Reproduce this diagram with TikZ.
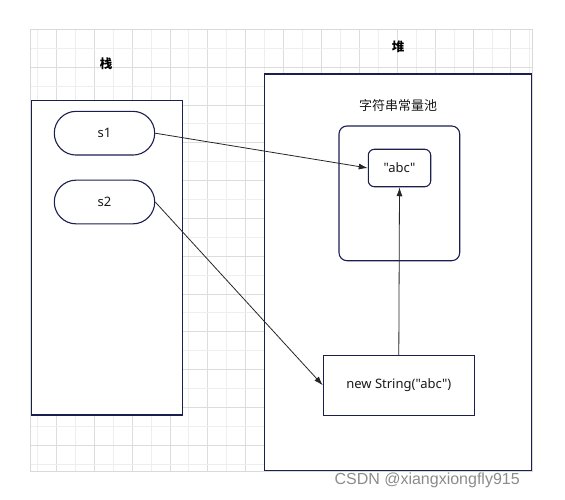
\documentclass[tikz,border=0pt]{standalone}
\usepackage{fontspec}
\setmainfont{Noto Sans}[Ligatures=TeXOff]
\newfontfamily\cjk{Noto Sans CJK SC}
\newfontfamily\wmfont{Liberation Sans}
\usetikzlibrary{arrows.meta}
\definecolor{navy}{HTML}{1B1F4E}
\definecolor{gridminor}{HTML}{EEEEEE}
\definecolor{gridmajor}{HTML}{DCDCDC}
\definecolor{gridborder}{HTML}{D9D9D9}
\tikzset{
  box/.style={draw=navy, line width=1.1pt, rectangle, inner sep=0pt, fill=white},
  rbox/.style={box, rounded corners=#1},
  lbl/.style={font=\fontsize{13}{15}\selectfont, text=black!90},
  conn/.style={draw=black!85, line width=0.8pt, -{Latex[length=9pt,width=6pt]}},
}
\begin{document}
\begin{tikzpicture}[x=1pt,y=-1pt]
\useasboundingbox (0,0) rectangle (565,500);
% grid
\foreach \k in {0,...,26}{
  \pgfmathsetmacro{\xx}{37.4+18.94*\k}
  \pgfmathtruncatemacro{\odd}{mod(\k,2)}
  \ifnum\odd=1 \draw[gridmajor, line width=0.9pt] (\xx,29.4) -- (\xx,471);
  \else \draw[gridminor, line width=0.9pt] (\xx,29.4) -- (\xx,471); \fi
}
\foreach \k in {1,...,23}{
  \pgfmathsetmacro{\yy}{29.4+18.9*\k}
  \pgfmathtruncatemacro{\odd}{mod(\k,2)}
  \ifnum\odd=0 \draw[gridmajor, line width=0.9pt] (30.3,\yy) -- (532.3,\yy);
  \else \draw[gridminor, line width=0.9pt] (30.3,\yy) -- (532.3,\yy); \fi
}
\draw[gridborder, line width=1pt] (30.3,29.4) rectangle (532.3,471);

% labels
\node[font=\cjk\bfseries\fontsize{12.5}{14}\selectfont] (stackl) at (106,64) {栈};
\node[font=\cjk\bfseries\fontsize{12.5}{14}\selectfont] (heapl) at (398,47) {堆};

% containers
\node[box, minimum width=150.6pt, minimum height=314.7pt] (stack) at (107,257.65) {};
\node[box, minimum width=267pt, minimum height=396.3pt] (heap) at (397.8,272.15) {};
\node[font=\cjk\fontsize{13}{15}\selectfont, text=black!90] (pooll) at (398,106) {字符串常量池};
\node[rbox=8pt, minimum width=120.7pt, minimum height=134.7pt] (pool) at (399.35,193.35) {};
\node[rbox=6pt, lbl, minimum width=62.4pt, minimum height=37.4pt] (abc) at (399.5,168) {"abc"};
\node[box, lbl, minimum width=151pt, minimum height=60pt] (newstr) at (398.8,385.3) {new String("abc")};

\node[rbox=21.8pt, lbl, minimum width=100.4pt, minimum height=43.7pt] (s1) at (104.5,133.2) {s1};
\node[rbox=21.8pt, lbl, minimum width=100.4pt, minimum height=43.7pt] (s2) at (104.5,202) {s2};

% connectors
\draw[conn] (s1.east) -- (abc.west);
\draw[conn] (s2.east) -- (newstr.west);
\draw[conn] (newstr.north) -- (abc.south);

% watermark
\node[font=\wmfont\fontsize{16}{18}\selectfont, text=black!45, anchor=west] (wm) at (331,480) {CSDN @xiangxiongfly915};
\end{tikzpicture}
\end{document}
